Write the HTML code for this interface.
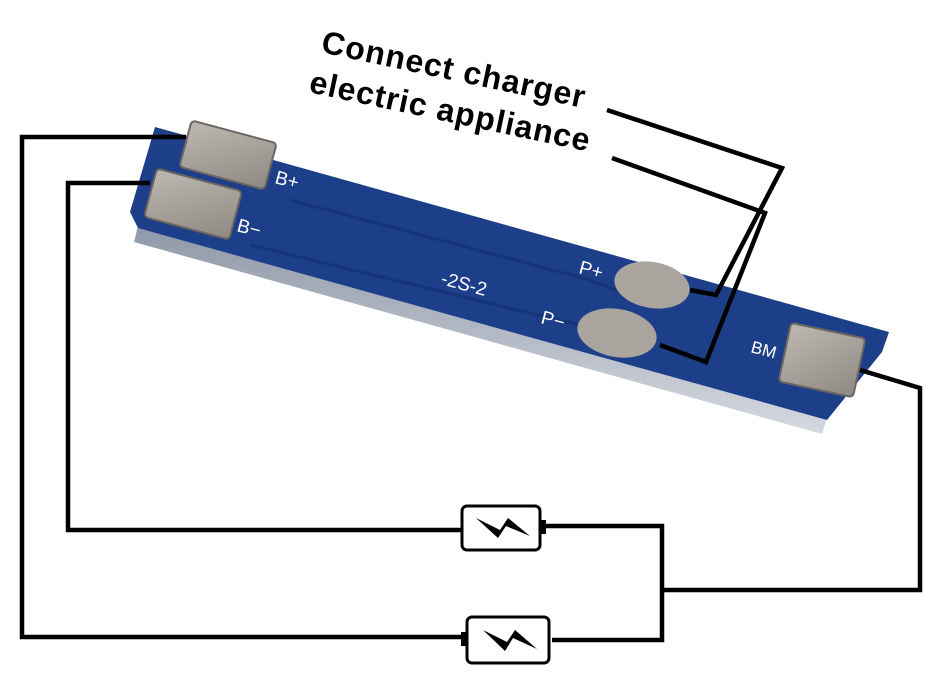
<!DOCTYPE html>
<html><head><meta charset="utf-8"><style>
html,body{margin:0;padding:0;background:#fff;width:948px;height:684px;overflow:hidden}
svg{display:block}
text{font-family:"Liberation Sans","DejaVu Sans",sans-serif}
</style></head><body>
<svg width="948" height="684" viewBox="0 0 948 684" xmlns="http://www.w3.org/2000/svg">
<defs>
<linearGradient id="side" x1="0" y1="0" x2="0" y2="1"><stop offset="0" stop-color="#8f98a8"/><stop offset="1" stop-color="#d5d9e0"/></linearGradient>
<linearGradient id="pad" x1="0" y1="0" x2="1" y2="1"><stop offset="0" stop-color="#bdb8b2"/><stop offset="1" stop-color="#8e8983"/></linearGradient>
</defs>
<rect width="948" height="684" fill="#fff"/>
<!-- board side -->
<polygon points="138,226 827,418 822,434 134,242" fill="url(#side)"/>
<!-- board top -->
<polygon points="155,127 889,332 882,352 827,420 138,228 130,212" fill="#1d3f8a"/>
<!-- trace lines -->
<polyline points="290,200 590,280 640,300" fill="none" stroke="#163477" stroke-width="3"/>
<polyline points="250,245 600,330" fill="none" stroke="#163477" stroke-width="3"/>
<!-- pads -->
<g transform="translate(228,155) rotate(15)"><rect x="-44" y="-24" width="88" height="48" rx="4" fill="url(#pad)" stroke="#6b6660" stroke-width="2"/></g>
<g transform="translate(193,204) rotate(15)"><rect x="-44" y="-25" width="88" height="50" rx="4" fill="url(#pad)" stroke="#6b6660" stroke-width="2"/></g>
<g transform="translate(822,360) rotate(12)"><rect x="-38" y="-30" width="76" height="60" rx="4" fill="url(#pad)" stroke="#6b6660" stroke-width="2"/></g>
<ellipse cx="652" cy="285" rx="38" ry="23" fill="#aaa49e" transform="rotate(10 652 285)"/>
<ellipse cx="617" cy="333" rx="40" ry="24" fill="#aaa49e" transform="rotate(10 617 333)"/>
<!-- board labels -->
<g fill="#fff" font-size="19">
<text x="274" y="183" transform="rotate(15 274 183)">B+</text>
<text x="236" y="231" transform="rotate(15 236 231)">B−</text>
<text x="578" y="273" transform="rotate(15 578 273)">P+</text>
<text x="540" y="323" transform="rotate(15 540 323)">P−</text>
<text x="440" y="284" transform="rotate(15 440 284)">-2S-2</text>
<text x="750" y="352" font-size="17" transform="rotate(15 750 352)">BM</text>
</g>
<!-- wires -->
<g fill="none" stroke="#000" stroke-width="4.5" stroke-linejoin="miter">
<polyline points="186,137 22,137 22,637 462,637"/>
<polyline points="150,183 68,183 68,530 462,530"/>
<polyline points="545,526 662,526 662,640 552,640"/>
<polyline points="662,590 920,590 920,388 860,370"/>
<polyline points="607,110 782,168 716,295 690,290"/>
<polyline points="612,158 765,213 706,362 660,345"/>
</g>
<!-- batteries -->
<g stroke="#000" stroke-width="3" fill="#fff">
<rect x="462" y="506" width="78" height="44" rx="5"/>
<rect x="467" y="617" width="82" height="46" rx="5"/>
</g>
<rect x="540" y="520" width="6" height="14" fill="#000"/>
<rect x="461" y="632" width="6" height="14" fill="#000"/>
<polygon points="476,518 500,530 508,518 530,536 506,526 498,538" fill="#000"/>
<polygon points="483,630 507,642 515,630 537,649 513,638 505,651" fill="#000"/>
<!-- label text -->
<g font-weight="bold" font-size="32" fill="#000">
<text x="320" y="52" letter-spacing="1" transform="rotate(12 320 52)">Connect charger</text>
<text x="308" y="92" letter-spacing="1" transform="rotate(12 308 92)">electric appliance</text>
</g>
</svg>
</body></html>
